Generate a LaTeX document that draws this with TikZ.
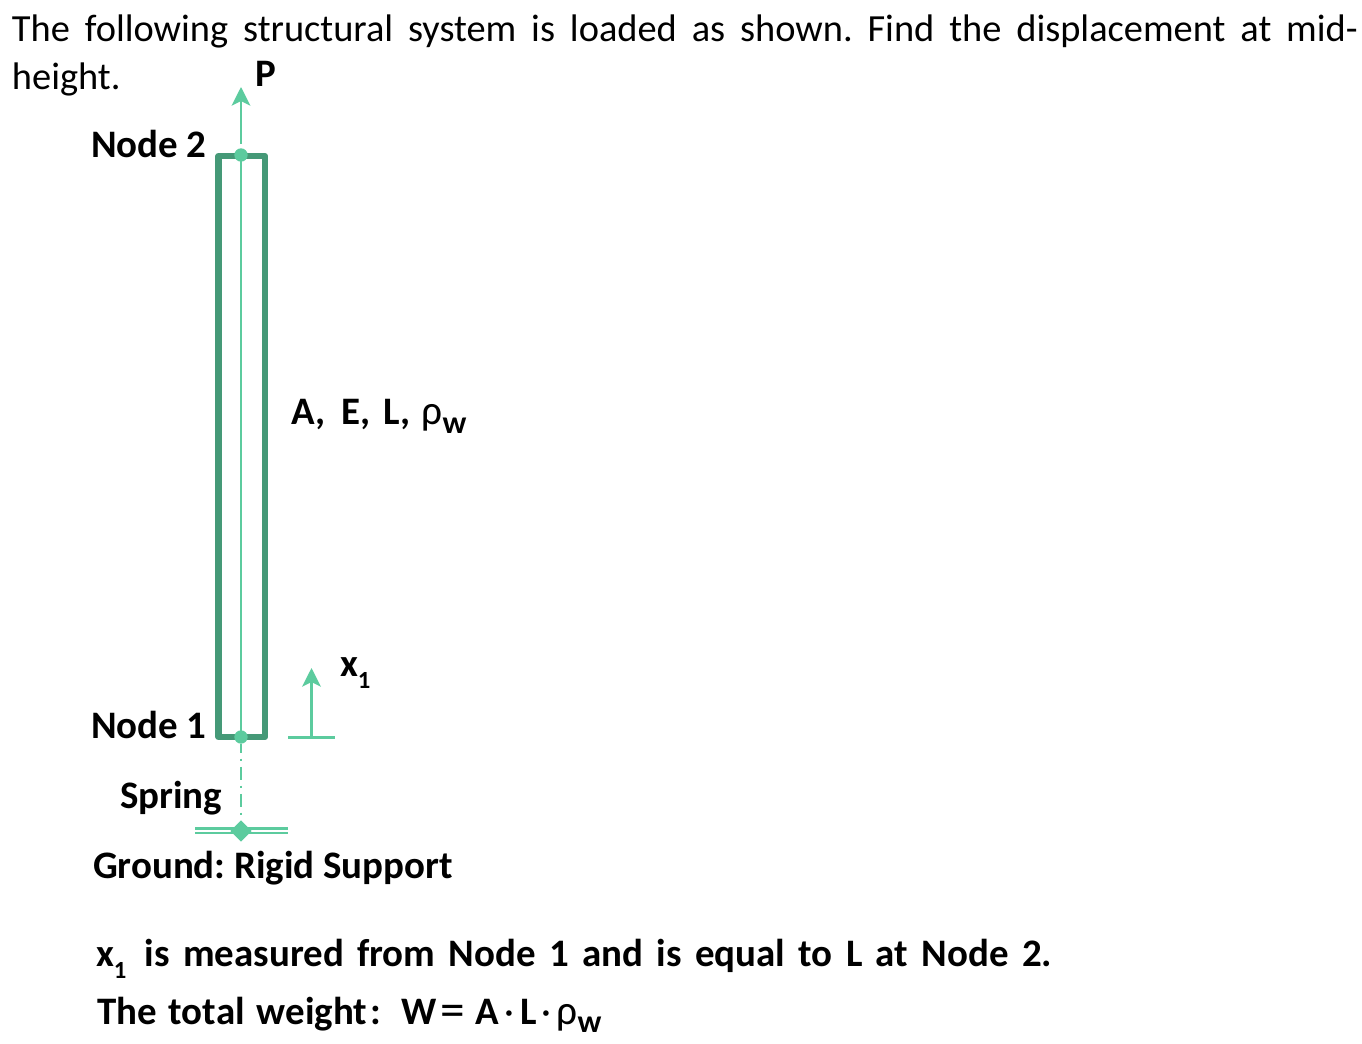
\documentclass[tikz,border=0pt]{standalone}
\usepackage{fontspec}
\setmainfont{Carlito}
\frenchspacing
\newlength{\pxu}\setlength{\pxu}{0.75pt}
\newcommand{\pxs}[1]{\hspace{#1\pxu}}
\definecolor{beam}{HTML}{459977}
\definecolor{mint}{HTML}{5CCB9E}
\usetikzlibrary{arrows.meta,shapes.geometric}
\tikzset{
  lbl/.style={inner sep=0pt,outer sep=0pt,anchor=base west,font=\fontsize{29.2pt}{34pt}\selectfont\bfseries},
  txt/.style={inner sep=0pt,outer sep=0pt,anchor=base west,font=\fontsize{28.8pt}{34pt}\selectfont},
  thin line/.style={draw=mint,line width=1.9pt},
  ground line/.style={draw=mint,line width=2pt},
  arrow line/.style={thin line,-{Stealth[length=14pt,width=14pt,inset=3.5pt]}},
  dot/.style={circle,fill=mint,inner sep=0pt,minimum size=10pt},
  gem/.style={diamond,fill=mint,inner sep=0pt,minimum size=16pt},
}
\newcommand{\subs}[1]{\raisebox{-0.32em}{\fontsize{18.5pt}{20pt}\selectfont\bfseries #1}}
\newcommand{\rhow}{{\mdseries\fontsize{31pt}{34pt}\selectfont ρ}\raisebox{-0.22em}{\fontsize{24pt}{24pt}\selectfont\bfseries w}}
\begin{document}
\begin{tikzpicture}[x=0.75pt,y=-0.75pt]
\useasboundingbox (0,0) rectangle (1362,1044);
\node[txt] (t1) at (12,41.5) {\makebox[1346\pxu][s]{The following structural system is loaded as shown. Find the displacement at mid-}};
\node[txt] (t2) at (12,89.5) {height.};
% beam
\draw[beam,line width=4.6pt,line join=round] (218.5,156) rectangle (265,737);
\coordinate (n2) at (241,155);
\coordinate (n1) at (241,737);
\coordinate (gnd) at (241,831);
\draw[thin line] (n2) -- (n1);
\node[dot] (d2) at (n2) {};
\node[dot] (d1) at (n1) {};
% load
\coordinate (ptail) at (241,144);
\coordinate (ptip) at (241,87);
\draw[arrow line] (ptail) -- (ptip);
% x1 axis
\coordinate (xl) at (288,737.5);
\coordinate (xr) at (335,737.5);
\coordinate (xb) at (311.5,737.5);
\coordinate (xt) at (311.5,668);
\draw[thin line] (xl) -- (xr);
\draw[arrow line] (xb) -- (xt);
% spring
\draw[thin line,dash pattern=on 10pt off 4pt on 2pt off 4.25pt,dash phase=3pt] (d1) -- (gnd);
% ground
\coordinate (g1a) at (195,828.6);\coordinate (g1b) at (288,828.6);
\coordinate (g2a) at (195,833);\coordinate (g2b) at (288,833);
\draw[ground line] (g1a) -- (g1b);
\draw[ground line] (g2a) -- (g2b);
\node[gem] (gd) at (gnd) {};
% labels
\node[lbl] (p) at (255,87) {P};
\node[lbl] (ln2) at (91,158) {Node 2};
\node[lbl] (ln1) at (91,738) {Node 1};
\node[lbl] (sp) at (120,808) {Spring};
\node[lbl] (gr) at (93,878) {Ground: Rigid Support};
\node[lbl] (props) at (291,425) {A,\pxs{8} E,\pxs{4} L,\pxs{2} \rhow};
\node[lbl] (x1) at (340,676) {x\subs{1}};
\node[lbl] (note1) at (96,966) {\makebox[956\pxu][s]{x\subs{1}\pxs{5} is measured from Node 1 and is equal to L at Node 2.}};
\node[lbl] (note2) at (97,1024) {\makebox[284\pxu][s]{The total weight\pxs{3}:}\pxs{20}W\pxs{4}\raisebox{-1.6pt}{\mdseries\fontsize{37pt}{34pt}\selectfont =}\pxs{11}A\pxs{5}{\mdseries·}\pxs{6}L\pxs{5}{\mdseries·}\pxs{5}\rhow};
\end{tikzpicture}
\end{document}
